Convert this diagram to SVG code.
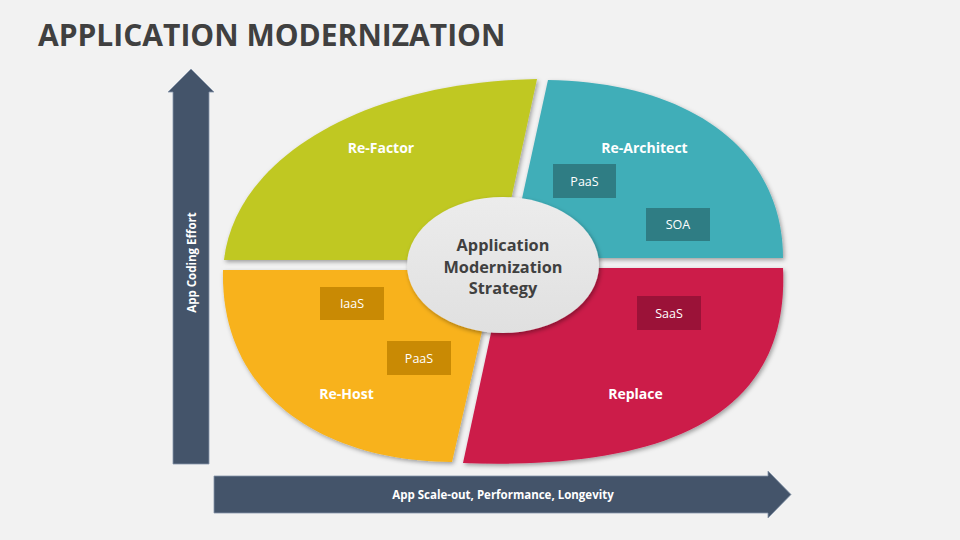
<svg xmlns="http://www.w3.org/2000/svg" width="960" height="540" viewBox="0 0 960 540">
  <defs>
    <filter id="shadow" x="-10%" y="-10%" width="120%" height="125%">
      <feDropShadow dx="1.5" dy="2" stdDeviation="2" flood-color="#000" flood-opacity="0.35"/>
    </filter>
    <linearGradient id="centerGrad" x1="0" y1="0" x2="0" y2="1">
      <stop offset="0" stop-color="#ececec"/>
      <stop offset="1" stop-color="#e0e0e0"/>
    </linearGradient>
    <style>
      .lbl { font-family: "Open Sans", "Liberation Sans", sans-serif; font-weight: bold; font-size: 14px; fill: #ffffff; text-anchor: middle; }
      .box-txt { font-family: "Open Sans", "Liberation Sans", sans-serif; font-size: 12.5px; fill: #ffffff; text-anchor: middle; }
      .axis-txt { font-family: "Open Sans", "Liberation Sans", sans-serif; font-weight: bold; font-size: 11.5px; fill: #ffffff; text-anchor: middle; }
      .center-txt { font-family: "Open Sans", "Liberation Sans", sans-serif; font-weight: bold; font-size: 16.3px; fill: #404040; text-anchor: middle; }
      .arrow { fill: #44546a; stroke: #8595aa; stroke-width: 0.8; }
    </style>
  </defs>

  <rect x="0" y="0" width="960" height="540" fill="#f2f2f2"/>

  <text x="38" y="46" font-family="'Open Sans', 'Liberation Sans', sans-serif" font-weight="bold" font-size="30" fill="#404040">APPLICATION MODERNIZATION</text>

  <g id="axes">
    <g id="axis-y">
      <polygon class="arrow" points="173,92 168,92 191,69 214,92 209,92 209,464 173,464"/>
      <text class="axis-txt" transform="translate(195.5,262.5) rotate(-90)">App Coding Effort</text>
    </g>
    <g id="axis-x">
      <polygon class="arrow" points="214,476 768,476 768,471 791,494.5 768,518 768,513 214,513"/>
      <text class="axis-txt" x="503" y="498.5">App Scale-out, Performance, Longevity</text>
    </g>
  </g>

  <g id="re-factor">
    <path d="M224,260 C235,160 360,82 537,79 L498,260 Z" fill="#c0c822" filter="url(#shadow)"/>
    <text class="lbl" x="381" y="152.5">Re-Factor</text>
  </g>

  <g id="re-architect">
    <path d="M548,80 C690,82 783,150 783,258 L509,258 Z" fill="#40aeb8" filter="url(#shadow)"/>
    <text class="lbl" x="644.5" y="152.5">Re-Architect</text>
    <rect x="553" y="164" width="63" height="34" fill="#2f7d84"/>
    <text class="box-txt" x="584.5" y="185.5">PaaS</text>
    <rect x="646" y="208" width="64" height="33" fill="#2f7d84"/>
    <text class="box-txt" x="678" y="229">SOA</text>
  </g>

  <g id="re-host">
    <path d="M223,270 C220,400 330,462 452,462 L496,270 Z" fill="#f8b21a" filter="url(#shadow)"/>
    <text class="lbl" x="346.5" y="398.5">Re-Host</text>
    <rect x="320" y="287" width="64" height="33" fill="#c98a04"/>
    <text class="box-txt" x="352" y="307.5">IaaS</text>
    <rect x="387" y="341" width="64" height="34" fill="#c98a04"/>
    <text class="box-txt" x="419" y="362.5">PaaS</text>
  </g>

  <g id="replace">
    <path d="M783,268 C790,420 660,470 463,463 L505,268 Z" fill="#cc1a4a" filter="url(#shadow)"/>
    <text class="lbl" x="635.5" y="398.5">Replace</text>
    <rect x="637" y="296" width="64" height="34" fill="#9b1238"/>
    <text class="box-txt" x="669" y="317.5">SaaS</text>
  </g>

  <g id="center">
    <ellipse cx="503" cy="265" rx="96" ry="68" fill="url(#centerGrad)" filter="url(#shadow)"/>
    <text class="center-txt" x="503" y="251">Application</text>
    <text class="center-txt" x="503" y="272.5">Modernization</text>
    <text class="center-txt" x="503" y="293.5">Strategy</text>
  </g>

  <g id="connectors"/>
</svg>
